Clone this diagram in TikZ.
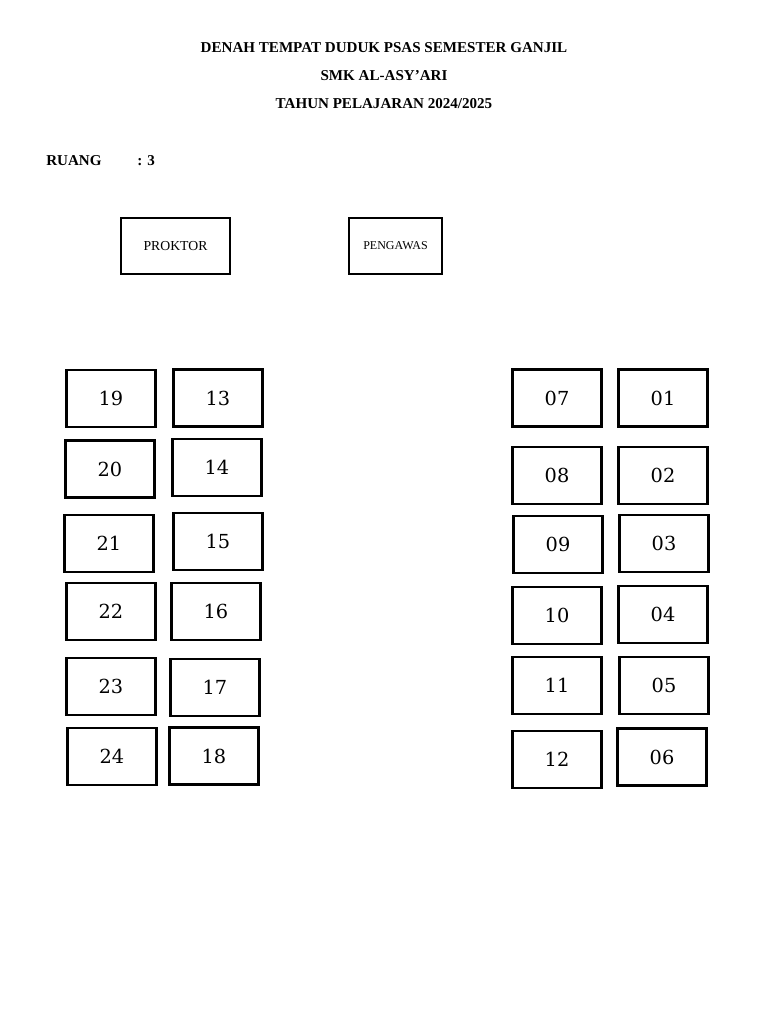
\documentclass[tikz,border=0pt]{standalone}
\usepackage{fontspec}
\setmainfont{Liberation Serif}
\newfontfamily\seatfont{DejaVu Serif}
\usepackage{tikz}
\usetikzlibrary{positioning}

\begin{document}
\begin{tikzpicture}[
  x=0.75pt, y=-0.75pt,
  seat/.style={draw, line width=1.6pt, minimum width=66.75pt, minimum height=42.75pt, inner sep=0pt, font=\seatfont\fontsize{14.5}{16}\selectfont},
  staff/.style={draw, line width=1.6pt, minimum height=42pt, inner sep=0pt},
  head/.style={font=\bfseries\fontsize{11.3}{13}\selectfont, inner sep=0pt}
]
  \useasboundingbox (0,0) rectangle (768,1024);
  % judul
  \node[head] (t1) at (384,48) {DENAH TEMPAT DUDUK PSAS SEMESTER GANJIL};
  \node[head] (t2) at (384,76) {SMK AL-ASY'ARI};
  \node[head] (t3) at (384,104) {TAHUN PELAJARAN 2024/2025};
  \node[head, anchor=west] (ruang) at (46,161) {RUANG};
  \node[head, anchor=west] (nomor) at (137,161) {: 3};

  % meja pengawas
  \node[staff, minimum width=81.75pt, font=\fontsize{10.3}{12}\selectfont] (proktor) at (175.5,246) {PROKTOR};
  \node[staff, minimum width=69.75pt, font=\fontsize{9}{11}\selectfont] (pengawas) at (395.5,246) {PENGAWAS};

  % kursi kiri
  \node[seat] (s19) at (111,398.5) {19};
  \node[seat] (s20) at (110,469) {20};
  \node[seat] (s21) at (109,543.5) {21};
  \node[seat] (s22) at (111,611.5) {22};
  \node[seat] (s23) at (111,686.5) {23};
  \node[seat] (s24) at (112,756.5) {24};
  \node[seat] (s13) at (218,398) {13};
  \node[seat] (s14) at (217,467.5) {14};
  \node[seat] (s15) at (218,541.5) {15};
  \node[seat] (s16) at (216,611.5) {16};
  \node[seat] (s17) at (215,687.5) {17};
  \node[seat] (s18) at (214,756) {18};

  % kursi kanan
  \node[seat] (s07) at (557,398) {07};
  \node[seat] (s08) at (557,475.5) {08};
  \node[seat] (s09) at (558,544.5) {09};
  \node[seat] (s10) at (557,615.5) {10};
  \node[seat] (s11) at (557,685.5) {11};
  \node[seat] (s12) at (557,759.5) {12};
  \node[seat] (s01) at (663,398) {01};
  \node[seat] (s02) at (663,475.5) {02};
  \node[seat] (s03) at (664,543.5) {03};
  \node[seat] (s04) at (663,614.5) {04};
  \node[seat] (s05) at (664,685.5) {05};
  \node[seat] (s06) at (662,757) {06};
\end{tikzpicture}
\end{document}
